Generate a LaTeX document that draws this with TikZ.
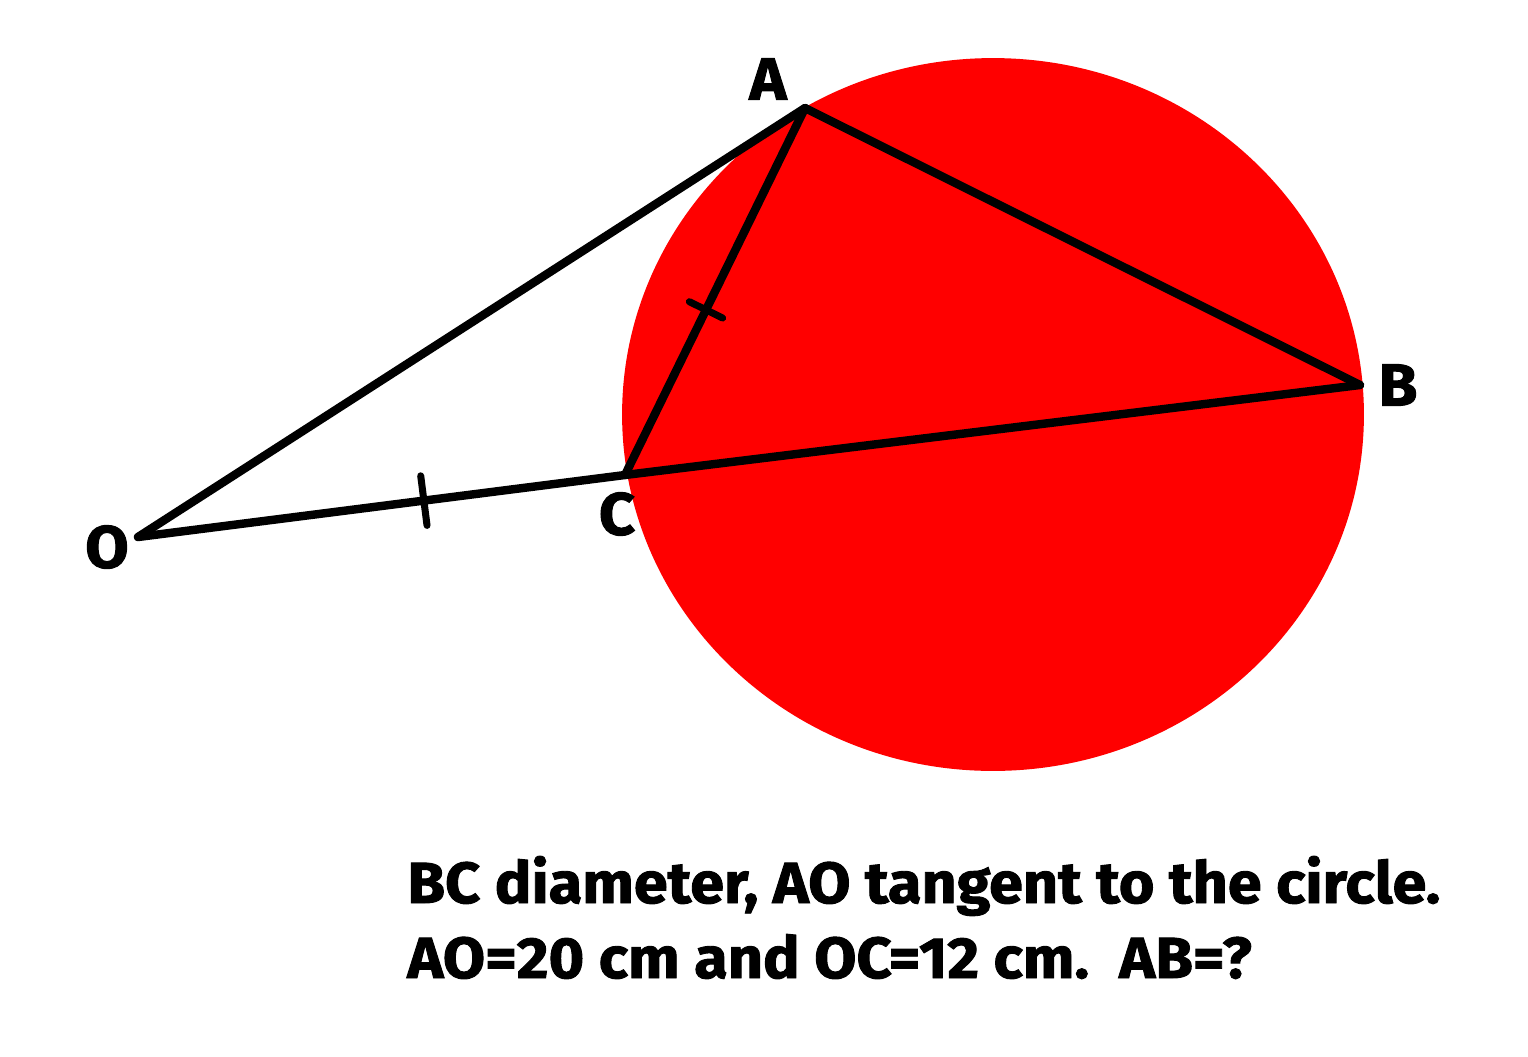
\documentclass[tikz,border=0pt]{standalone}
\usepackage{fontspec}
\setmainfont{Fira Sans}[FakeStretch=1.055, BoldFeatures={FakeBold=1.6}]
\usetikzlibrary{calc}
\begin{document}
\begin{tikzpicture}[x=0.02cm, y=-0.02cm,
	seg/.style={line width=4.8pt, line cap=round, line join=round},
	tick/.style={line width=4pt, line cap=round},
	lbl/.style={font=\bfseries\fontsize{34}{40}\selectfont},
	txt/.style={font=\bfseries\fontsize{33}{40}\selectfont, anchor=base west, inner sep=0pt}]
	\useasboundingbox (0, 0) rectangle (1528, 1056);
	
	\coordinate (A) at (805, 108);
	\coordinate (B) at (1360, 385);
	\coordinate (C) at (625, 475);
	\coordinate (O) at (138, 537);
	\coordinate (M) at (993, 414.5);
	
	\fill[red] (M) ellipse [x radius=7.42cm, y radius=7.13cm];
	
	\node[lbl] (la) at (768, 79) {A};
	\node[lbl] (lb) at (1398, 385) {B};
	\node[lbl] (lc) at (617, 514) {C};
	\node[lbl] (lo) at (107, 547) {O};
	
	\draw[seg] (O) -- (A);
	\draw[seg] (A) -- (B);
	\draw[seg] (B) -- (C);
	\draw[seg] (C) -- (O);
	\draw[seg] (A) -- (C);
	
	\coordinate (T1) at ($(O)!0.587!(C)$);
	\draw[tick] ($(T1)!0.5cm!90:(C)$) -- ($(T1)!0.5cm!-90:(C)$);
	\coordinate (T2) at ($(C)!0.45!(A)$);
	\draw[tick] ($(T2)!0.37cm!90:(A)$) -- ($(T2)!0.37cm!-90:(A)$);
	
	\node[txt] (q1) at (407, 903) {BC diameter, AO tangent to the circle.};
	\node[txt] (q2) at (407, 978) {AO=20 cm and OC=12 cm.\hspace{0.6cm}AB=?};
\end{tikzpicture}
\end{document}
